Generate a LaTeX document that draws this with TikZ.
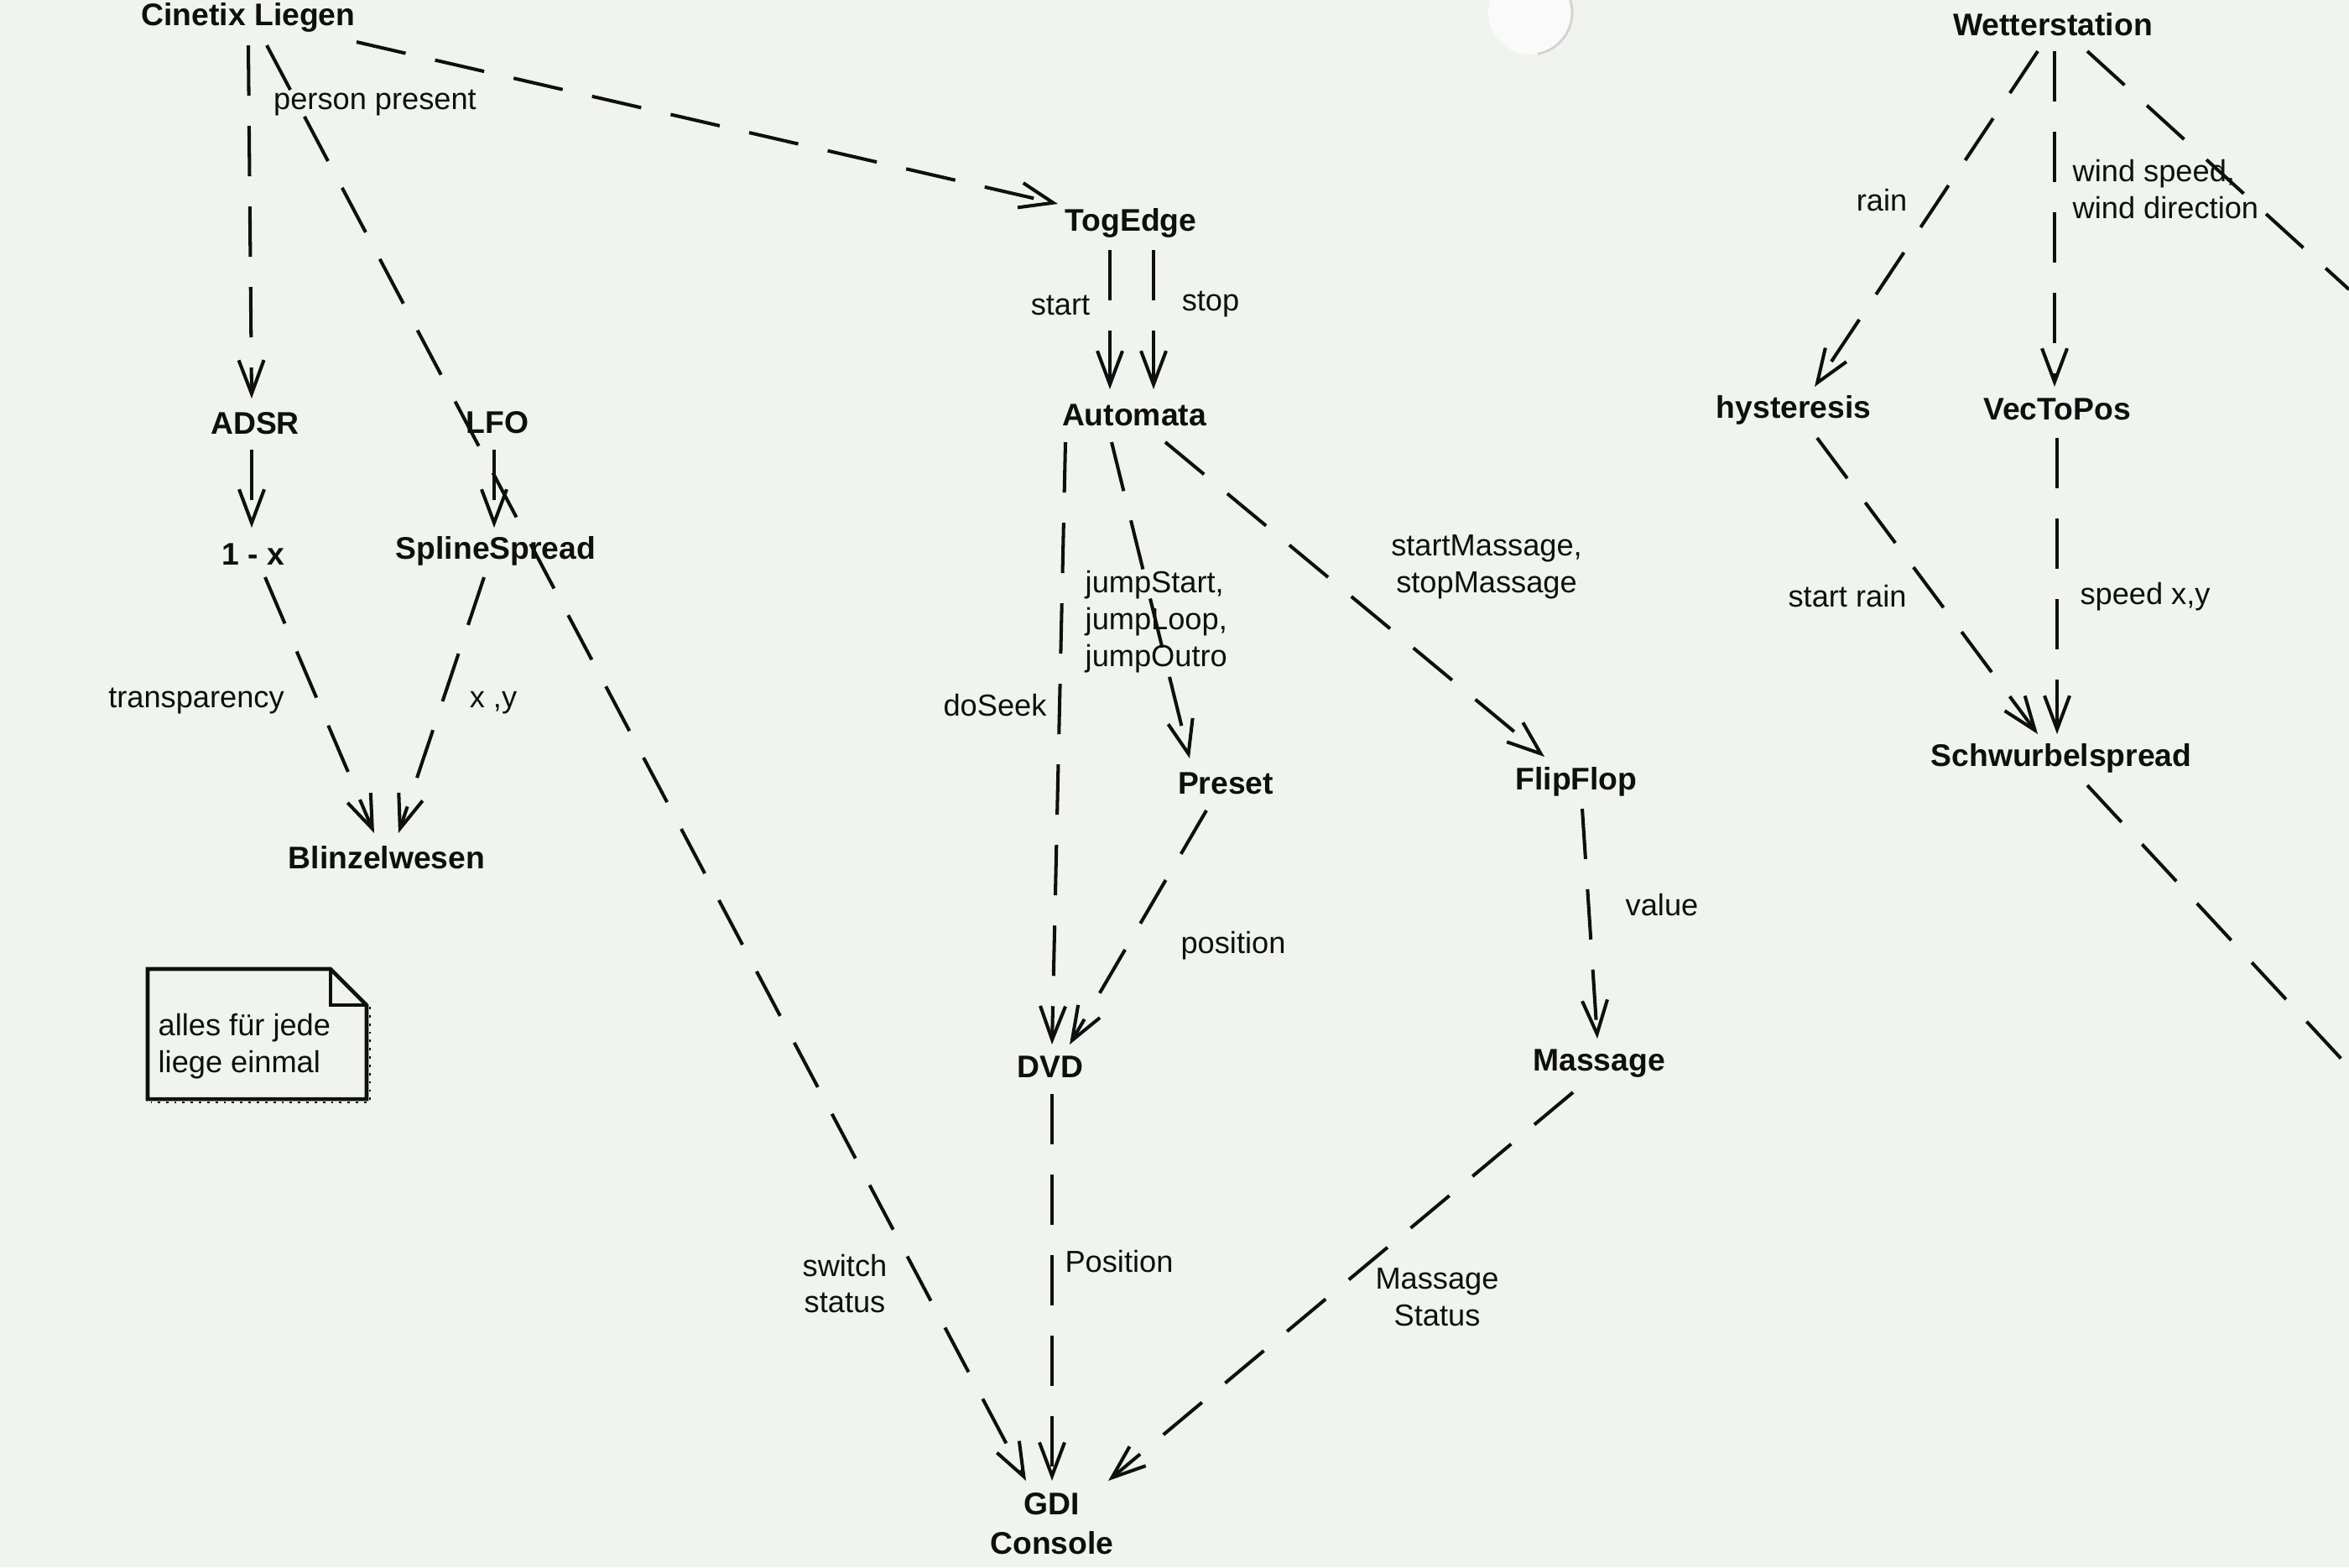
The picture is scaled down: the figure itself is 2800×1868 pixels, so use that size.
\documentclass[tikz,border=0pt]{standalone}
\usepackage{fontspec}
\setmainfont{Liberation Sans}
\usetikzlibrary{arrows.meta,calc}
\definecolor{paper}{RGB}{241,243,239}
\definecolor{ink}{RGB}{15,15,15}
\begin{document}
\begin{tikzpicture}[x=0.01cm,y=-0.01cm,
  box/.style={font=\bfseries\fontsize{10.6}{13}\selectfont, inner sep=0pt, align=center, text=ink},
  lab/.style={font=\fontsize{10.3}{12.5}\selectfont, inner sep=0pt, align=center, text=ink},
  labl/.style={lab, align=left},
  flow/.style={draw=ink, line width=1.15pt, dash pattern=on 0.6cm off 0.36cm,
    -{Straight Barb[length=0.4cm,width=0.3cm,line width=1.15pt]}},
  free/.style={draw=ink, line width=1.15pt, dash pattern=on 0.6cm off 0.36cm},
  notebox/.style={draw=ink, line width=1.3pt, line join=miter}]
\fill[paper] (0,0) rectangle (2800,1868);
\useasboundingbox (0,0) rectangle (2800,1868);
% paper hole
\fill[white!60!paper] (1824,15) circle (50);
\draw[gray!35, line width=0.8pt] (1824,15) ++(-40:50) arc (-40:80:50);

% nodes
\node[box] (cin) at (296,21) {Cinetix Liegen};
\node[box] (tog) at (1348,266) {TogEdge};
\node[box] (aut) at (1352,495) {Automata};
\node[box] (adsr) at (304,505) {ADSR};
\node[box] (lfo) at (593,504) {LFO};
\node[box] (onex) at (302,661) {1 - x};
\node[box] (spl) at (591,657) {SplineSpread};
\node[box] (bli) at (461,1022) {Blinzelwesen};
\node[box] (pre) at (1461,934) {Preset};
\node[box] (flip) at (1879,932) {FlipFlop};
\node[box] (dvd) at (1252,1272) {DVD};
\node[box] (mas) at (1906,1268) {Massage};
\node[box, font=\bfseries\fontsize{10.6}{13.2}\selectfont] (gdi) at (1254,1816) {GDI\\Console};
\node[box] (wet) at (2447,29) {Wetterstation};
\node[box] (hys) at (2138,489) {hysteresis};
\node[box] (vec) at (2452,488) {VecToPos};
\node[box] (sch) at (2457,904) {Schwurbelspread};

% free ends leaving the page
\coordinate (offA) at (2800,345);
\coordinate (offB) at (2800,1272);

% connectors
\draw[flow] ($(cin)+(0,33)$) -- ($(adsr)+(-4,-30)$);
\draw[flow] ($(cin)+(22,33)$) -- ($(gdi)+(-31,-51)$);
\draw[flow] ($(cin)+(129,29)$) -- ($(tog)+(-87,-23)$);
\draw[flow] ($(adsr)+(-4,31)$) -- ($(onex)+(-2,-32)$);
\draw[flow] ($(lfo)+(-4,32)$) -- ($(spl)+(-2,-28)$);
\draw[flow] ($(onex)+(14,27)$) -- ($(bli)+(-15,-29)$);
\draw[flow] ($(spl)+(-14,31)$) -- ($(bli)+(14,-29)$);
\draw[flow] ($(tog)+(-25,32)$) -- ($(aut)+(-29,-31)$);
\draw[flow] ($(tog)+(27,32)$) -- ($(aut)+(23,-31)$);
\draw[flow] ($(aut)+(-82,32)$) -- ($(dvd)+(2,-27)$);
\draw[flow] ($(aut)+(-27,32)$) -- ($(pre)+(-43,-30)$);
\draw[flow] ($(aut)+(37,32)$) -- ($(flip)+(-38,-30)$);
\draw[flow] ($(pre)+(-23,32)$) -- ($(dvd)+(23,-27)$);
\draw[flow] ($(flip)+(7,32)$) -- ($(mas)+(-2,-30)$);
\draw[flow] ($(dvd)+(2,32)$) -- ($(gdi)+(0,-51)$);
\draw[flow] ($(mas)+(-31,34)$) -- ($(gdi)+(67,-51)$);
\draw[flow] ($(wet)+(-18,32)$) -- ($(hys)+(25,-28)$);
\draw[flow] ($(wet)+(2,32)$) -- ($(vec)+(-3,-27)$);
\draw[free] ($(wet)+(41,32)$) -- (offA);
\draw[flow] ($(hys)+(28,33)$) -- ($(sch)+(-28,-29)$);
\draw[flow] ($(vec)+(0,34)$) -- ($(sch)+(-5,-29)$);
\draw[free] ($(sch)+(31,32)$) -- (offB);

% connector labels
\node[lab] (lpp) at (447,123) {person present};
\node[lab] (lstart) at (1264,364) {start};
\node[lab] (lstop) at (1443,363) {stop};
\node[lab] (ltr) at (234,836) {transparency};
\node[lab] (lxy) at (588,838) {x ,y};
\node[labl, anchor=west] (ljump) at (1293,741) {jumpStart,\\jumpLoop,\\jumpOutro};
\node[lab] (lseek) at (1186,841) {doSeek};
\node[lab] (lsm) at (1772,676) {startMassage,\\stopMassage};
\node[lab] (lpos) at (1470,1127) {position};
\node[lab] (lval) at (1981,1079) {value};
\node[lab] (lsw) at (1007,1530) {switch\\status};
\node[lab] (lPos) at (1334,1504) {Position};
\node[lab] (lms) at (1713,1546) {Massage\\Status};
\node[lab] (lrain) at (2243,239) {rain};
\node[labl, anchor=west] (lwind) at (2470,226) {wind speed,\\wind direction};
\node[lab] (lsr) at (2202,711) {start rain};
\node[lab] (lsxy) at (2557,711) {speed x,y};

% note
\draw[notebox] (176,1155) -- (394,1155) -- (437,1198) -- (437,1310) -- (176,1310) -- cycle;
\draw[notebox] (394,1155) -- (394,1198) -- (437,1198);
\draw[ink, line width=0.8pt, dotted] (441,1200) -- (441,1314) -- (180,1314);
\node[labl, anchor=west] (note) at (188,1247) {alles für jede\\liege einmal};
\end{tikzpicture}
\end{document}
